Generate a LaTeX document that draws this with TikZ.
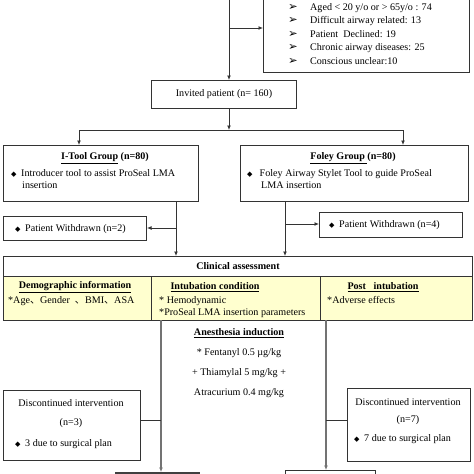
\documentclass[tikz,border=0pt]{standalone}
\usepackage{fontspec}
\setmainfont{Liberation Serif}
\newfontfamily\symfont{DejaVu Sans}
\newfontfamily\cjk{Noto Sans CJK SC}
\usetikzlibrary{arrows.meta}
\definecolor{paleyellow}{HTML}{FFFFCF}
\definecolor{linegray}{HTML}{333333}
\newcommand{\dia}{\makebox[10pt][l]{\symfont\fontsize{7}{7}\selectfont ◆}}
\newcommand{\arrbul}{\makebox[22pt][l]{\symfont\fontsize{11.5}{11}\selectfont ➢}}
\begin{document}
\begin{tikzpicture}[x=1pt,y=-1pt,
  box/.style={draw=linegray, line width=1pt, inner sep=0pt, anchor=north west, font=\fontsize{10.1}{12}\selectfont},
  ybox/.style={box, fill=paleyellow},
  txt/.style={inner sep=0pt, font=\fontsize{10.1}{12}\selectfont},
  ltxt/.style={txt, anchor=base west, yshift=-3.4pt},
  line/.style={draw=linegray, line width=0.9pt},
  arr/.style={line, -{Latex[length=4.5pt,width=4pt]}},
  garr/.style={draw=black!55, line width=1.4pt, -{Latex[length=4.5pt,width=4pt]}},
]
\useasboundingbox (0,0) rectangle (474,474);
\clip (0,0) rectangle (474,474);

% exclusion box
\node[box, minimum width=206pt, minimum height=90pt] (excl) at (263,-18) {};
\node[ltxt] (e1) at (288,7) {\arrbul Aged < 20 y/o or > 65y/o : 74};
\node[ltxt] (e2) at (288,20.5) {\arrbul Difficult airway related: 13};
\node[ltxt] (e3) at (288,34) {\arrbul Patient\ \ Declined: 19};
\node[ltxt] (e4) at (288,47.5) {\arrbul Chronic airway diseases: 25};
\node[ltxt] (e5) at (288,61) {\arrbul Conscious unclear:10};

\coordinate (top) at (229,0);
\coordinate (b1) at (229,28);
\node[box, minimum width=145pt, minimum height=28pt] (inv) at (151,80) {Invited patient (n= 160)};
\draw[arr] (top) -- (top |- inv.north);
\draw[arr] (b1) -- (b1 -| excl.west);

% split
\coordinate (split) at (229,130);
\coordinate (sl) at (79,130);
\coordinate (sr) at (403,130);
\draw[arr] (inv.south -| split) -- (split);
\draw[line] (sl) -- (sr);

% groups
\node[box, minimum width=195pt, minimum height=56pt] (itool) at (3,145) {};
\node[box, minimum width=228pt, minimum height=56pt] (foley) at (240,145) {};
\draw[arr] (sl) -- (sl |- itool.north);
\draw[arr] (sr) -- (sr |- foley.north);
\node[txt] (it1) at (105,158) {\bfseries\underline{I-Tool Group} (n=80)};
\node[ltxt] (it2) at (11,173) {\dia Introducer tool to assist ProSeal LMA};
\node[ltxt] (it3) at (22,185) {insertion};
\node[txt] (fo1) at (353,158) {\bfseries\underline{Foley Group }(n=80)};
\node[ltxt] (fo2) at (247,173) {\dia\ Foley Airway Stylet Tool to guide ProSeal};
\node[ltxt] (fo3) at (261,185) {LMA insertion};

% withdrawn
\node[box, minimum width=143pt, minimum height=24pt] (wL) at (3,216) {};
\node[ltxt] (wLt) at (15,228) {\dia Patient Withdrawn (n=2)};
\node[box, minimum width=143pt, minimum height=25pt] (wR) at (319,212) {};
\node[ltxt] (wRt) at (329,224.5) {\dia Patient Withdrawn (n=4)};

% clinical assessment
\node[box, minimum width=469pt, minimum height=20pt] (clin) at (3,256) {\bfseries Clinical assessment};
\node[ybox, minimum width=148pt, minimum height=44pt] (c1) at (3,276) {};
\node[ybox, minimum width=169pt, minimum height=44pt] (c2) at (151,276) {};
\node[ybox, minimum width=152pt, minimum height=44pt] (c3) at (320,276) {};
\node[txt] (c1h) at (75,287) {\bfseries\underline{Demographic information}};
\node[ltxt] (c1a) at (8,300) {*Age{\cjk 、}Gender\ \ {\cjk 、}BMI{\cjk 、}ASA};
\node[txt] (c2h) at (215,287) {\bfseries\underline{Intubation condition}};
\node[ltxt] (c2a) at (159,300) {* Hemodynamic};
\node[ltxt] (c2b) at (159,312) {*ProSeal LMA insertion parameters};
\node[txt] (c3h) at (383,287) {\bfseries\underline{Post\ \ \ intubation}};
\node[ltxt] (c3a) at (327,300) {*Adverse effects};

\coordinate (jL) at (176,228);
\coordinate (jR) at (285,224);
\draw[arr] (itool.south -| jL) -- (jL |- clin.north);
\draw[arr] (jL) -- (jL -| wL.east);
\draw[arr] (foley.south -| jR) -- (jR |- clin.north);
\draw[arr] (jR) -- (jR -| wR.west);

% anesthesia induction
\node[txt] (an1) at (239,333) {\bfseries\underline{Anesthesia induction}};
\node[txt] (an2) at (239,353) {* Fentanyl 0.5 µg/kg};
\node[txt] (an3) at (239,373) {+ Thiamylal 5 mg/kg +};
\node[txt] (an4) at (239,393) {Atracurium 0.4 mg/kg};

% bottom boxes
\node[box, draw=black!75, line width=2pt, minimum width=83pt, minimum height=20pt] (botL) at (115,472) {};
\node[box, minimum width=90pt, minimum height=20pt] (botR) at (285,470) {};
\coordinate (aL) at (161,320);
\coordinate (aR) at (326,320);
\draw[garr] (aL) -- (aL |- botL.north);
\draw[garr] (aR) -- (aR |- botR.north);

% discontinued
\node[box, minimum width=137pt, minimum height=70pt] (dL) at (3,390) {};
\node[txt] (dL1) at (71,403) {Discontinued intervention};
\node[txt] (dL2) at (71,423) {(n=3)};
\node[ltxt] (dL3) at (15,443) {\dia 3 due to surgical plan};
\node[box, minimum width=123pt, minimum height=73pt] (dR) at (347,388) {};
\node[txt] (dR1) at (408,402) {Discontinued intervention};
\node[txt] (dR2) at (408,420) {(n=7)};
\node[ltxt] (dR3) at (354,438) {\dia 7 due to surgical plan};
\coordinate (hL) at (0,420);
\coordinate (hR) at (0,420);
\draw[line] (dL.east |- hL) -- (aL |- hL);
\draw[line] (aR |- hR) -- (dR.west |- hR);
\end{tikzpicture}
\end{document}
